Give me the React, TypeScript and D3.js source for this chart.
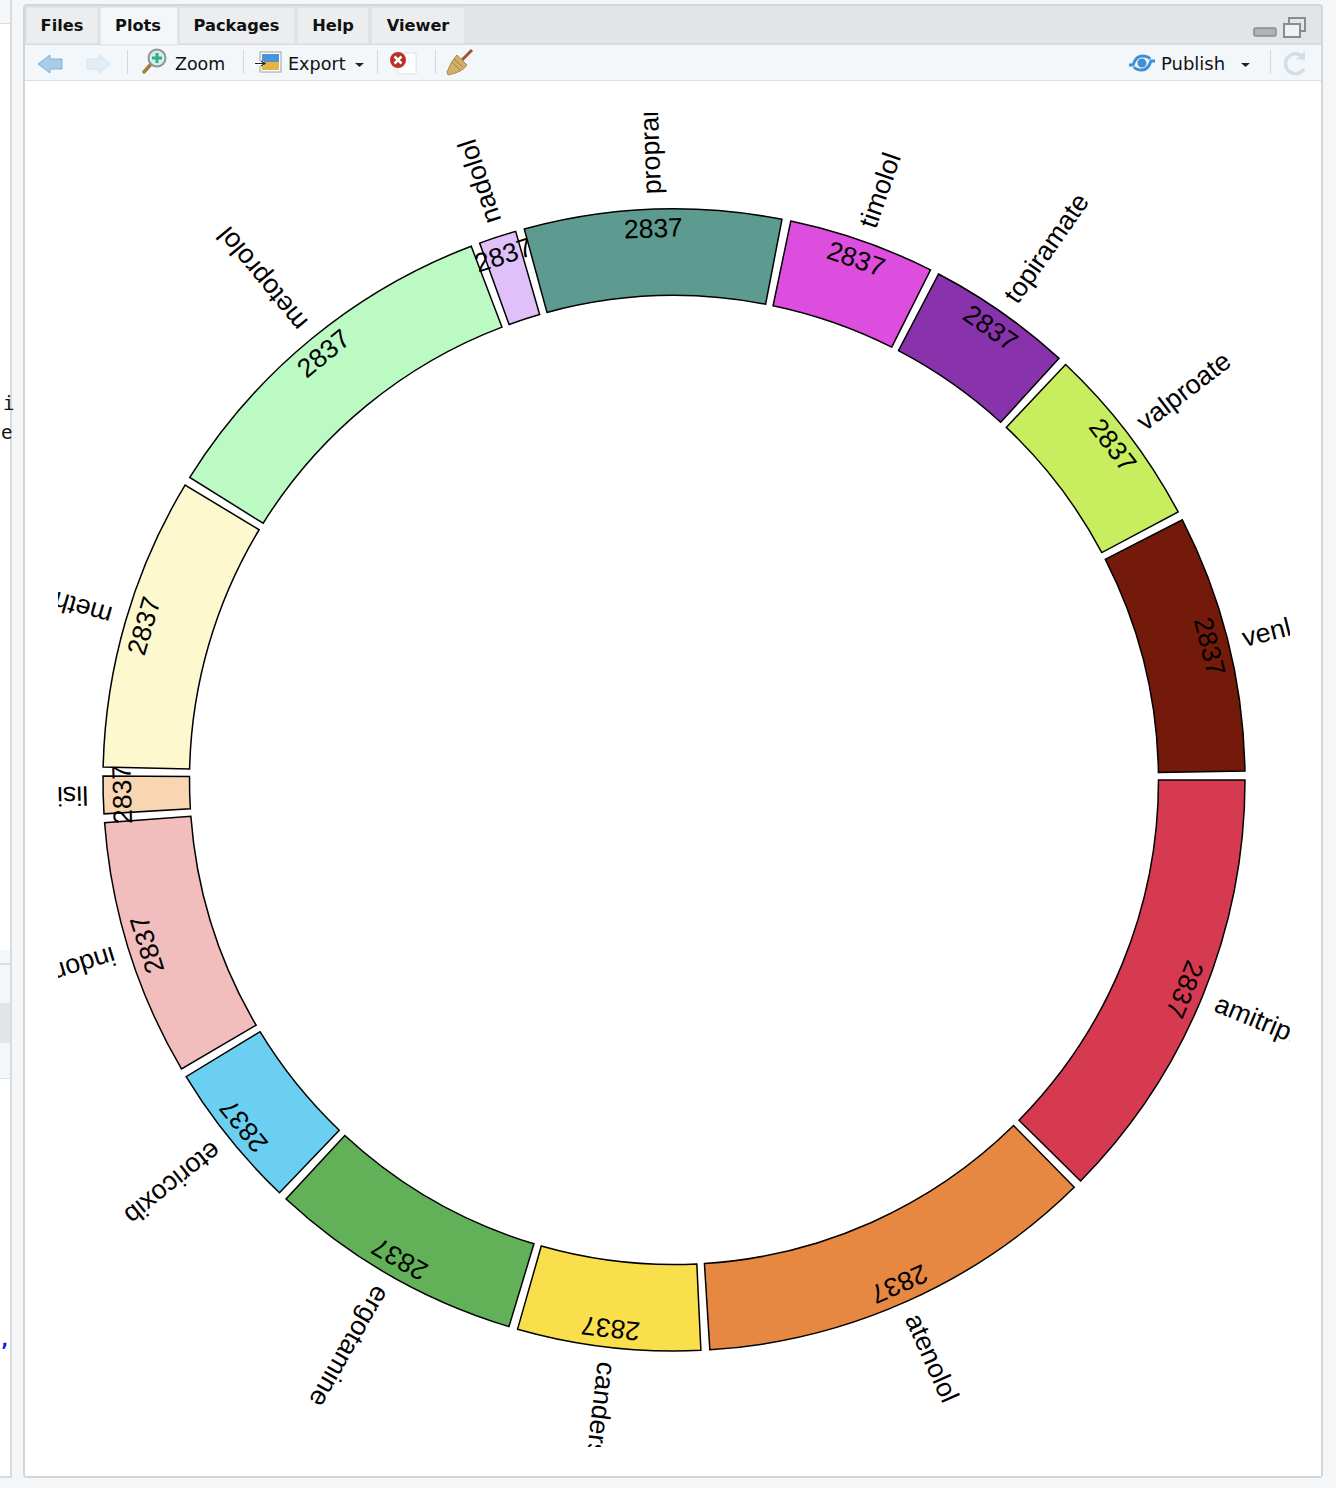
import React from "react";
import * as d3 from "d3";

const categories = ["amitriptyline","atenolol","candersartan","ergotamine","etoricoxib","indomethacin","lisinopril","methysergide","metoprolol","nadolol","propranolol","timolol","topiramate","valproate","venlafaxine"];
const sectorSizes = [44.6,40.9,18.6,26.0,15.0,26.1,3.8,29.8,37.2,3.8,26.1,14.9,14.8,18.7,26.2];
const cellValues = [2837,2837,2837,2837,2837,2837,2837,2837,2837,2837,2837,2837,2837,2837,2837];
const sectorColors = ["#D63A50","#E68742","#FADF4D","#62B058","#6ACFF1","#F2BDBD","#F8D6B2","#FEF8CF","#BCFAC4","#DFC0F9","#5D9A90","#DD4EDE","#8832AC","#C8EE5F","#741A0A"];
const tabs = ["Files","Plots","Packages","Help","Viewer"];

const CX = 674, CY = 780, R0 = 484.5, R1 = 571, GAP = 0.9;
const UI = "'DejaVu Sans', sans-serif";
const ARIAL = "'Liberation Sans', Arial, sans-serif";

const tabBoxes = [[26,98,62],[100,178,138],[179,295,236.5],[297,369,333],[371,465,418]];

function Chrome() {
  return (
    <g>
      <rect x={0} y={0} width={1336} height={1488} fill="#F5F6F8" />
      {/* left pane remnants */}
      <rect x={0} y={0} width={11} height={1477} fill="#fff" />
      <rect x={0} y={0} width={10} height={23} fill="#F5F7F9" />
      <rect x={0} y={23} width={11} height={1} fill="#DADCDF" />
      <rect x={0} y={950} width={10} height={13} fill="#F4F7F9" />
      <rect x={0} y={963} width={12} height={2} fill="#D9DCDF" />
      <rect x={0} y={965} width={10} height={38} fill="#F5F6F8" />
      <rect x={0} y={1003} width={11} height={40} fill="#E3E4E6" />
      <rect x={0} y={1043} width={10} height={35} fill="#F4F7F9" />
      <rect x={0} y={1078} width={11} height={1} fill="#DDE0E3" />
      <rect x={10} y={0} width={2} height={1477} fill="#D9DCDF" />
      <rect x={0} y={1476} width={12} height={2} fill="#D9DCDF" />
      <rect x={0} y={1478} width={1336} height={10} fill="#F5F6F8" />
      <text x={3} y={410} fontFamily="'DejaVu Sans Mono', monospace" fontSize={19} fill="#111">i</text>
      <text x={1} y={439} fontFamily="'DejaVu Sans Mono', monospace" fontSize={19} fill="#111">e</text>
      <text x={-1} y={1346} fontFamily="'DejaVu Sans Mono', monospace" fontSize={19} fontWeight="bold" fill="#1414E6">,</text>
      {/* main pane */}
      <rect x={24} y={5} width={1298} height={1472} rx={3} fill="#E3E4E6" stroke="#D3D6D9" strokeWidth={2} />
      <rect x={25} y={45} width={1296} height={36} fill="#F4F7F9" />
      <rect x={25} y={43} width={1296} height={2} fill="#D8DBDE" />
      <rect x={25} y={80} width={1296} height={1} fill="#DDE0E3" />
      <rect x={25} y={81} width={1296} height={1395} fill="#fff" />
      {tabs.map((t, i) => {
        const [a, b, c] = tabBoxes[i];
        const on = t === "Plots";
        return (
          <g key={t}>
            <path d={`M${a},${on ? 45 : 44} V9 q0,-2 2,-2 H${b - 2} q2,0 2,2 V${on ? 45 : 44} Z`} fill={on ? "#F4F7F9" : "#ECEDEF"} stroke="#DADCDF" strokeWidth={1} />
            <text x={c} y={30.5} textAnchor="middle" fontFamily={UI} fontWeight="bold" fontSize={16.2} fill="#111">{t}</text>
          </g>
        );
      })}
      {/* window icons */}
      <rect x={1254} y={28} width={22} height={8} rx={2} fill="#AEB4BA" stroke="#868C92" strokeWidth={1.5} />
      <path d="M1289,24 V18 h16 V31 h-5" fill="none" stroke="#868C92" strokeWidth={2} />
      <rect x={1284} y={24} width={16} height={13} fill="#F0F1F2" stroke="#868C92" strokeWidth={2} />
      {/* back / forward */}
      <path d="M38,64 L50,55 V59 H62 V69 H50 V73 Z" fill="#A8CDEA" stroke="#88AFCF" />
      <path d="M111,64 L99,55 V59 H87 V69 H99 V73 Z" fill="#E3EDF5" stroke="#D8E3EC" />
      <rect x={127} y={50} width={1} height={24} fill="#D5D8DB" />
      {/* zoom */}
      <line x1={144} y1={72} x2={152} y2={63} stroke="#A87A3C" strokeWidth={3.5} strokeLinecap="round" />
      <circle cx={157} cy={58} r={8.5} fill="#D8EDE8" stroke="#8C959C" strokeWidth={2} />
      <path d="M157,53 V63 M152,58 H162" stroke="#2FAE8E" strokeWidth={3} />
      <text x={175} y={70} fontFamily={UI} fontSize={17.4} fill="#111">Zoom</text>
      <rect x={243} y={50} width={1} height={24} fill="#D5D8DB" />
      {/* export */}
      <rect x={260} y={52} width={21} height={20} fill="#fff" stroke="#9AA0A6" />
      <rect x={262} y={54} width={17} height={8} fill="#4C93D8" />
      <rect x={262} y={62} width={17} height={8} fill="#E2B545" />
      <rect x={254} y={61} width={10} height={5} fill="#fff" />
      <path d="M255,63.5 H264 M261,61 L265,63.5 L261,66" stroke="#222" fill="none" strokeWidth={1.2} />
      <text x={288} y={70} fontFamily={UI} fontSize={17.6} fill="#111">Export</text>
      <path d="M355,63 h9 l-4.5,4 Z" fill="#222" />
      <rect x={377} y={50} width={1} height={24} fill="#D5D8DB" />
      {/* remove */}
      <rect x={398} y={53} width={18} height={21} fill="#fff" stroke="#DDE0E3" />
      <circle cx={398} cy={60} r={8} fill="#B83228" />
      <path d="M394.5,56.5 L401.5,63.5 M401.5,56.5 L394.5,63.5" stroke="#fff" strokeWidth={2.5} />
      <rect x={435} y={50} width={1} height={24} fill="#D5D8DB" />
      {/* broom */}
      <line x1={462} y1={60} x2={472} y2={50} stroke="#A8503C" strokeWidth={3} />
      <path d="M457,55 L467,65 Q463,72 448,75 L447,72 Q451,61 457,55 Z" fill="#D1B06C" stroke="#A98B4E" />
      <path d="M454,59 L463,67 M452,62 L460,70" stroke="#9C7F45" strokeWidth={1} />
      {/* publish */}
      <circle cx={1142} cy={63} r={4.5} fill="#3D8FD8" />
      <path d="M1129,65 h4 q3,-9 9,-9 q6,0 8,3 M1155,61 h-4 q-3,9 -9,9 q-6,0 -8,-3" fill="none" stroke="#3D8FD8" strokeWidth={3} />
      <text x={1161} y={70} fontFamily={UI} fontSize={18} fill="#111">Publish</text>
      <path d="M1241,63 h9 l-4.5,4 Z" fill="#222" />
      <rect x={1270} y={50} width={1} height={24} fill="#D5D8DB" />
      <path d="M1303,57 A10,10 0 1 0 1304,69" fill="none" stroke="#D4DEE8" strokeWidth={3.5} />
      <path d="M1296,59 L1305,51 V60 Z" fill="#D4DEE8" />
    </g>
  );
}

export default function App() {
  const total = d3.sum(sectorSizes);
  const deg = d3.scaleLinear().domain([0, total]).range([0, 360 - categories.length * GAP]);
  const arc = d3.arc();
  let cum = 0;
  const sectors = categories.map((name, i) => {
    const start = deg(cum) + i * GAP;
    const end = deg(cum + sectorSizes[i]) + i * GAP;
    cum += sectorSizes[i];
    return { name, value: cellValues[i], color: sectorColors[i], start, end, mid: (start + end) / 2 };
  });
  const rad = (a: number) => ((a + 90) * Math.PI) / 180;

  return (
    <svg width={1336} height={1488} style={{ position: "absolute", left: 0, top: 0 }}>
      <defs>
        <clipPath id="plotClip">
          <rect x={58} y={113} width={1232} height={1334} />
        </clipPath>
      </defs>
      <Chrome />
      <g clipPath="url(#plotClip)" fontFamily={ARIAL} fill="#000">
        {sectors.map((s) => (
          <g key={s.name} transform={`translate(${CX},${CY})`}>
            <path
              d={arc({ innerRadius: R0, outerRadius: R1, startAngle: rad(s.start), endAngle: rad(s.end) }) as string}
              fill={s.color}
              stroke="#000"
              strokeWidth={1.5}
            />
            <text
              transform={`rotate(${s.mid}) translate(552,0) rotate(90)`}
              textAnchor="middle"
              dominantBaseline="central"
              fontSize={26.5}
            >
              {s.value}
            </text>
            <text
              transform={`rotate(${s.mid}) translate(586,0)`}
              dominantBaseline="central"
              fontSize={26.8}
            >
              {s.name}
            </text>
          </g>
        ))}
      </g>
    </svg>
  );
}
